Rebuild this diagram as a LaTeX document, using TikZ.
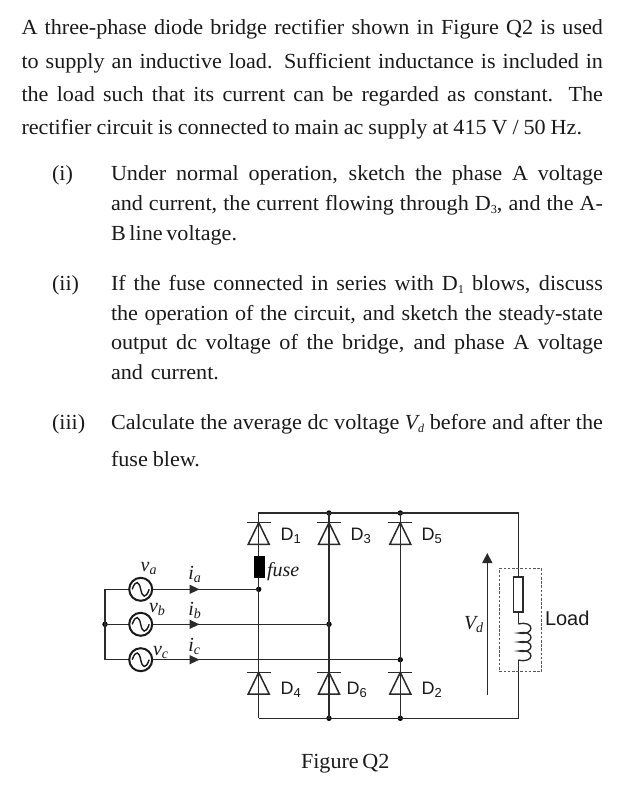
\documentclass[tikz,border=0pt]{standalone}
\usepackage{fontspec}
\setmainfont{Liberation Serif}
\newfontfamily\bodyfont[FakeStretch=1.03]{Liberation Serif}
\newfontfamily\armfont{Liberation Sans}
\newfontfamily\ifont[Ligatures=TeX]{Liberation Serif Italic}
\usetikzlibrary{arrows.meta}
\definecolor{ink}{HTML}{1A1A1A}
\definecolor{wire}{HTML}{2A2A2A}
\newcommand{\bodysize}{\bodyfont\fontsize{21.5}{24}\selectfont}
\newcommand{\lowsub}[1]{\raisebox{-3pt}{\fontsize{12}{12}\selectfont #1}}
\newcommand{\dsub}[2]{\armfont\fontsize{18}{20}\selectfont D\raisebox{-3pt}{\fontsize{13}{13}\selectfont #1}}
\newcommand{\vsym}[2]{\ifont\fontsize{#2}{#2}\selectfont #1}
\newcommand{\isub}[2]{{\ifont\fontsize{20}{20}\selectfont #1\raisebox{-3pt}{\fontsize{14}{14}\selectfont #2}}}
\newcommand{\tline}[5]{\node[bodyline] (#1) at (#2,#3) {\makebox[#4pt][s]{#5}};}
\tikzset{
  bodyline/.style={anchor=base west,inner sep=0pt,outer sep=0pt,text=ink,font=\bodysize},
  lab/.style={anchor=base west,inner sep=0pt,outer sep=0pt,text=ink},
  wireline/.style={draw=wire,line width=1.35pt},
  jdot/.style={circle,fill=black,inner sep=0pt,minimum size=5.4pt},
  pt/.style={inner sep=0pt,outer sep=0pt,minimum size=0pt},
  srcnode/.style={circle,draw=ink,line width=2pt,fill=white,minimum size=23pt,inner sep=0pt,outer sep=0pt},
  diodenode/.style={inner sep=0pt,outer sep=0pt,minimum width=24pt,minimum height=21.6pt},
  fusenode/.style={draw=black,fill=black,inner sep=0pt,outer sep=0pt,minimum width=10pt,minimum height=21pt},
  resnode/.style={draw=wire,line width=1.25pt,fill=white,inner sep=0pt,outer sep=0pt,minimum width=9.5pt,minimum height=35pt},
  flowhead/.style={-{Triangle[length=10pt,width=9pt]},wireline},
}
\newcommand{\diodeshape}[1]{%
  \draw[wireline,line width=1.5pt] (#1.north west) -- (#1.north east);
  \draw[wireline,line width=1.5pt,line join=miter] (#1.north) -- ([xshift=10.5pt]#1.south) -- ([xshift=-10.5pt]#1.south) -- cycle;
}
\newcommand{\sinewave}[1]{%
  \draw[draw=ink,line width=1.4pt] ([xshift=-8.5pt]#1.center) .. controls ([xshift=-5pt,yshift=10pt]#1.center) and ([xshift=-1.5pt,yshift=8pt]#1.center) .. (#1.center) .. controls ([xshift=1.5pt,yshift=-8pt]#1.center) and ([xshift=5pt,yshift=-10pt]#1.center) .. ([xshift=8.5pt]#1.center);
}
\begin{document}
\begin{tikzpicture}[x=1pt,y=-1pt]
\useasboundingbox (0,0) rectangle (621,812);
% text
\tline{t1}{21.5}{34}{581.5}{A three-phase diode bridge rectifier shown in Figure Q2 is used}
\tline{t2}{21.5}{68}{581.5}{to supply an inductive load. Sufficient inductance is included in}
\tline{t3}{21.5}{101}{581.5}{the load such that its current can be regarded as constant. The}
\tline{t4}{21.5}{134.5}{560.5}{rectifier circuit is connected to main ac supply at 415 V / 50 Hz.}
\node[bodyline] (n1) at (52,180.5) {(i)};
\tline{t5}{111}{180.5}{492}{Under normal operation, sketch the phase A voltage}
\tline{t6}{111}{210.5}{492}{and current, the current flowing through D\lowsub{3}, and the A-}
\tline{t7}{111}{240}{125}{B line voltage.}
\node[bodyline] (n2) at (52,290.5) {(ii)};
\tline{t8}{111}{290.5}{492}{If the fuse connected in series with D\lowsub{1} blows, discuss}
\tline{t9}{111}{320.5}{492}{the operation of the circuit, and sketch the steady-state}
\tline{t10}{111}{349.5}{492}{output dc voltage of the bridge, and phase A voltage}
\tline{t11}{111}{379.5}{108}{and current.}
\node[bodyline] (n3) at (52,429.5) {(iii)};
\tline{t12}{111}{429.5}{492}{Calculate the average dc voltage {\ifont V\lowsub{d}} before and after the}
\tline{t13}{111}{466}{89}{fuse blew.}
\tline{cap}{301}{768}{88}{Figure Q2}
% junctions
\node[pt] (tl) at (258.7,513) {};
\node[jdot] (t2j) at (329,513) {};
\node[jdot] (t3j) at (400.3,513) {};
\node[pt] (tr) at (518.3,513) {};
\node[pt] (bl) at (258.7,718.3) {};
\node[jdot] (b2j) at (329,718.3) {};
\node[jdot] (b3j) at (400.3,718.3) {};
\node[pt] (br) at (518.3,718.3) {};
\node[jdot] (ja) at (258.7,589.3) {};
\node[jdot] (jb) at (329,624.3) {};
\node[jdot] (jc) at (400.3,659.7) {};
\node[pt] (busa) at (105,589.3) {};
\node[jdot] (busb) at (105,624.3) {};
\node[pt] (busc) at (105,659.7) {};
% wires
\draw[wireline] (bl.center) -- (tl.center) -- (tr.center) -- (br.center) -- (bl.center);
\draw[wireline] (t2j.center) -- (b2j.center);
\draw[wireline] (t3j.center) -- (b3j.center);
\draw[wireline] (busa.center) -- (ja.center);
\draw[wireline] (busb.center) -- (jb.center);
\draw[wireline] (busc.center) -- (jc.center);
\draw[wireline] (busa.center) -- (busc.center);
% diodes
\node[diodenode] (D1) at (258.7,533.5) {}; \diodeshape{D1}
\node[diodenode] (D3) at (329,533.5) {}; \diodeshape{D3}
\node[diodenode] (D5) at (400.3,533.5) {}; \diodeshape{D5}
\node[diodenode] (D4) at (258.7,683.2) {}; \diodeshape{D4}
\node[diodenode] (D6) at (329,683.2) {}; \diodeshape{D6}
\node[diodenode] (D2) at (400.3,683.2) {}; \diodeshape{D2}
\node[lab] (lD1) at (280.7,540.7) {\dsub{1}{}};
\node[lab] (lD3) at (350.7,540.7) {\dsub{3}{}};
\node[lab] (lD5) at (421.7,540.7) {\dsub{5}{}};
\node[lab] (lD4) at (280.7,694) {\dsub{4}{}};
\node[lab] (lD6) at (346.7,694) {\dsub{6}{}};
\node[lab] (lD2) at (421.7,694) {\dsub{2}{}};
% fuse
\node[fusenode] (fuse) at (258.7,566.6) {};
\node[lab] (lfuse) at (267,576) {\vsym{fuse}{20}};
% sources
\node[srcnode] (Sa) at (140.7,589.3) {}; \sinewave{Sa}
\node[srcnode] (Sb) at (140.7,624.3) {}; \sinewave{Sb}
\node[srcnode] (Sc) at (140.7,659.7) {}; \sinewave{Sc}
\node[lab] (lva) at (140.7,571) {\isub{v}{a}};
\node[lab] (lvb) at (149,612.7) {\isub{v}{b}};
\node[lab] (lvc) at (153,655) {\isub{v}{c}};
% current arrows
\node[pt] (aa) at (188,589.3) {};
\node[pt] (ab) at (199.5,589.3) {};
\node[pt] (ba) at (188,624.3) {};
\node[pt] (bb) at (199.5,624.3) {};
\node[pt] (ca) at (188,659.7) {};
\node[pt] (cb) at (199.5,659.7) {};
\draw[flowhead] (aa.center) -- (ab.center);
\draw[flowhead] (ba.center) -- (bb.center);
\draw[flowhead] (ca.center) -- (cb.center);
\node[lab] (lia) at (188.3,579) {\isub{i}{a}};
\node[lab] (lib) at (188.3,615) {\isub{i}{b}};
\node[lab] (lic) at (188.3,651.7) {\isub{i}{c}};
% Vd arrow
\node[pt] (vlo) at (487.3,695) {};
\node[pt] (vhi) at (487.3,553) {};
\draw[wireline,-{Triangle[length=10pt,width=10pt]}] (vlo.center) -- (vhi.center);
\node[lab] (lvd) at (464,629) {\isub{V}{d}};
% load
\node[pt] (coilt) at (518.3,624) {};
\node[pt] (coilb) at (518.3,660) {};
\draw[draw=white,line width=2.4pt] (coilt.center) -- (coilb.center);
\draw[wireline] (coilt.center)
  .. controls (535,620) and (535,636) .. (519,633)
  .. controls (535,630) and (535,645) .. (519,642)
  .. controls (535,639) and (535,654) .. (519,651)
  .. controls (535,648) and (535,664) .. (coilb.center);
\node[resnode] (R) at (518.3,594.5) {};
\node[draw=black!65,line width=1pt,inner sep=0pt,minimum width=42.4pt,minimum height=102.7pt,dash pattern=on 2.6pt off 1.6pt] (box) at (520.5,620.3) {};
\node[lab] (lload) at (545,625.5) {\armfont\fontsize{20}{22}\selectfont Load};
\end{tikzpicture}
\end{document}
